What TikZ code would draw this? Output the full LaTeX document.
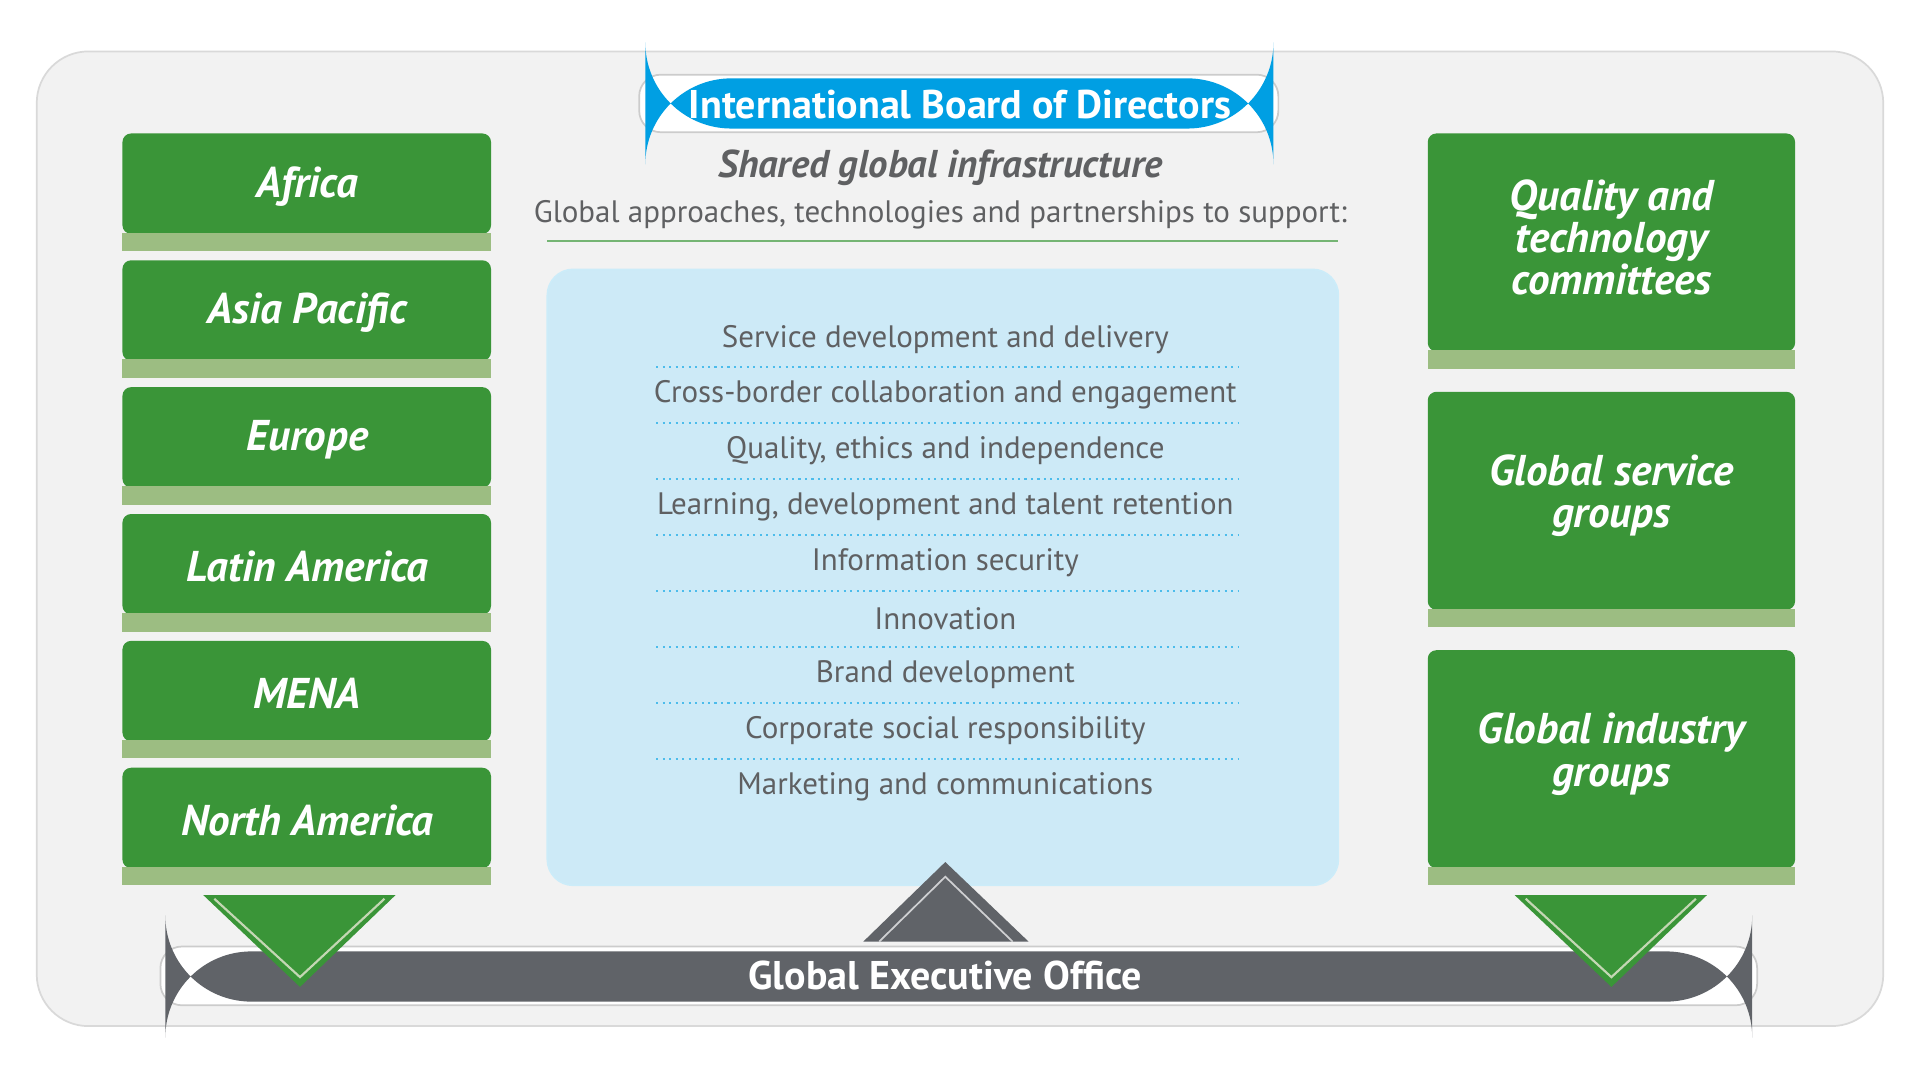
\documentclass[tikz,border=0pt]{standalone}
\usepackage{fontspec}
\setmainfont{PT Sans}
\definecolor{grn}{HTML}{3A9538}
\definecolor{band}{HTML}{9CBD82}
\definecolor{blu}{HTML}{009FE3}
\definecolor{lblu}{HTML}{CDEAF7}
\definecolor{dgr}{HTML}{606368}
\definecolor{txt}{HTML}{5F6062}
\definecolor{bg}{HTML}{F2F2F2}
\begin{document}
\begin{tikzpicture}[x=0.01cm,y=-0.01cm,
  region/.style={font=\fontsize{10}{11}\selectfont\bfseries\itshape,text=white,align=center},
  item/.style={font=\fontsize{7.2}{8}\selectfont,text=txt},
  sep/.style={blu!70,densely dotted,line width=0.5pt}]
\useasboundingbox (0,0) rectangle (1568,880);
\fill[white] (0,0) rectangle (1568,880);
\draw[fill=bg,draw=black!15,rounded corners=12] (30,42) rectangle (1538,838);
% board
\draw[fill=white,draw=black!20,rounded corners=5] (522,61) rectangle (1044,108);
\fill[blu,rounded corners=20] (527,64) rectangle (1040,105);
\node[font=\fontsize{9.3}{10}\selectfont\bfseries,text=white] (board) at (784,85) {International Board of Directors};
\node[font=\fontsize{9}{10}\selectfont\bfseries\itshape,text=txt] (shared) at (768,137) {Shared global infrastructure};
\node[font=\fontsize{7.2}{8}\selectfont,text=txt] (sub) at (768,175) {Global approaches, technologies and partnerships to support:};
\draw[grn!70,line width=0.6pt] (447,197) -- (1093,197);
% blue box
\draw[fill=lblu,draw=blu!20,rounded corners=6] (447,220) rectangle (1093,723);
\foreach \t [count=\i] in {Service development and delivery,Cross-border collaboration and engagement,Quality{,} ethics and independence,{Learning, development and talent retention},Information security,Innovation,Brand development,Corporate social responsibility,Marketing and communications}{
  \node[item] (it\i) at (772,{277+45.7*(\i-1)}) {\t};
}
\foreach \i in {1,...,8}{\draw[sep] (536,{300+45.7*(\i-1)}) -- (1011,{300+45.7*(\i-1)});}
% left
\foreach \t [count=\i] in {Africa,Asia Pacific,Europe,Latin America,MENA,North America}{
  \pgfmathsetmacro\yy{109+103.6*(\i-1)}
  \fill[grn,rounded corners=2] (100,\yy) rectangle (401,\yy+82);
  \fill[band] (100,\yy+81) rectangle (401,\yy+96);
  \node[region] (l\i) at (251,\yy+43) {\t};
}
% right
\foreach \t/\y [count=\i] in {{Quality and\\technology\\committees}/109,{Global service\\groups}/320,{Global industry\\groups}/531}{
  \fill[grn,rounded corners=2] (1166,\y) rectangle (1466,\y+178);
  \fill[band] (1166,\y+177) rectangle (1466,\y+192);
  \node[region,font=\fontsize{10}{9.8}\selectfont\bfseries\itshape] (r\i) at (1316,\y+85) {\t};
}
% exec bar
\draw[fill=white,draw=black!20,rounded corners=5] (131,773) rectangle (1435,821);
\fill[dgr,rounded corners=20] (135,777) rectangle (1431,818);
\node[font=\fontsize{9.3}{10}\selectfont\bfseries,text=white] (geo) at (772,797) {Global Executive Office};
% triangles
\fill[dgr] (705,769) -- (772,704) -- (840,769) -- cycle;
\draw[white!70!dgr,line width=0.4pt] (718,769) -- (772,716) -- (827,769);
\foreach \cx in {245,1316}{
  \fill[grn] (\cx-79,731) -- (\cx+78,731) -- (\cx,806) -- cycle;
  \draw[band!60!white,line width=0.5pt] (\cx-70,734) -- (\cx,798) -- (\cx+69,734);
}
\end{tikzpicture}
\end{document}
